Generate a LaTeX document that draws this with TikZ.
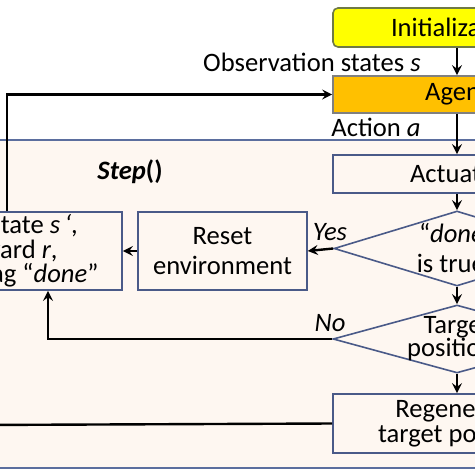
\documentclass[tikz,border=0pt]{standalone}
\usepackage{fontspec}
\setmainfont{Carlito}
\usetikzlibrary{shapes.geometric}

\definecolor{initfill}{HTML}{FFFF00}
\definecolor{initline}{HTML}{6F7A45}
\definecolor{agentfill}{HTML}{FFC000}
\definecolor{agentline}{HTML}{808080}
\definecolor{boxline}{HTML}{4A5A88}
\definecolor{stepbg}{HTML}{FEF7F1}
\definecolor{stepline}{HTML}{5B6E9E}

\tikzset{
  flowbox/.style={draw=boxline, line width=0.8pt, align=center, inner sep=0pt},
  decision/.style={flowbox, diamond, aspect=3.3, inner sep=-3pt},
  flowarrow/.style={->, line width=1.2pt},
}

\begin{document}
\begin{tikzpicture}[x=0.5pt,y=-0.5pt,>=stealth,
  every node/.style={font=\fontsize{13.3}{15}\selectfont}]
  \useasboundingbox (0,0) rectangle (474,474);

  % Step() frame
  \fill[stepbg] (-20,140) rectangle (500,468);
  \draw[stepline, line width=0.8pt] (-20,140) rectangle (500,468);

  % Boxes
  \node[flowbox, draw=initline, fill=initfill, rounded corners=2.5pt,
        minimum width=124pt, minimum height=19.5pt] (init) at (457,27.5) {Initialization};
  \node[flowbox, draw=agentline, fill=agentfill,
        minimum width=124pt, minimum height=18.5pt] (agent) at (457,94.5) {Agent};
  \node[flowbox, minimum width=124pt, minimum height=19pt] (actuator) at (457,174) {Actuator};
  \node[decision, minimum width=123pt, minimum height=37.5pt] (done) at (457,248.5)
    {“\textit{done}”\\is true?};
  \node[decision, minimum width=124pt, minimum height=34pt,
        font=\fontsize{13.3}{11.5}\selectfont] (target) at (457,339) {Target\\position?};
  \node[flowbox, minimum width=124pt, minimum height=29.5pt,
        font=\fontsize{13.3}{12.5}\selectfont] (regen) at (457,423.5) {Regenerate\\target position};
  \node[flowbox, minimum width=84.5pt, minimum height=39pt] (reset) at (222.5,251)
    {Reset\\environment};
  \node[flowbox, minimum width=116pt, minimum height=39pt,
        font=\fontsize{13.3}{12.25}\selectfont] (state) at (6,251)
    {Next state \textit{s\,‘},\\Reward \textit{r},\\Done flag “\textit{done}”};

  % Labels
  \node[anchor=east, inner sep=0pt] (obslabel) at (421,62) {Observation states \textit{s}};
  \node[anchor=east, inner sep=0pt] (actlabel) at (421,127) {Action \textit{a}};
  \node (yeslabel) at (330,232) {\textit{Yes}};
  \node (nolabel) at (330,323) {\textit{No}};
  \node (steplabel) at (130,172) {\textbf{\textit{Step}()}};

  % Connectors
  \draw[flowarrow] (init) -- (agent);
  \draw[flowarrow] (agent) -- (actuator);
  \draw[flowarrow] (actuator) -- (done);
  \draw[flowarrow] (done) -- (target);
  \draw[flowarrow] (target) -- (regen);
  \draw[flowarrow] (done.west) -- (reset.east);
  \draw[flowarrow] (reset.west) -- (state.east);
  \coordinate (nobend) at (48,339);
  \draw[flowarrow] (target.west) -- (nobend) -- (nobend |- state.south);
  \coordinate (loopback) at (7,96);
  \draw[flowarrow] (loopback |- state.north) |- (agent.west);
  \coordinate (regenout) at (-20,425);
  \draw[line width=1.2pt] (regen.west) -- (regenout);
\end{tikzpicture}
\end{document}
